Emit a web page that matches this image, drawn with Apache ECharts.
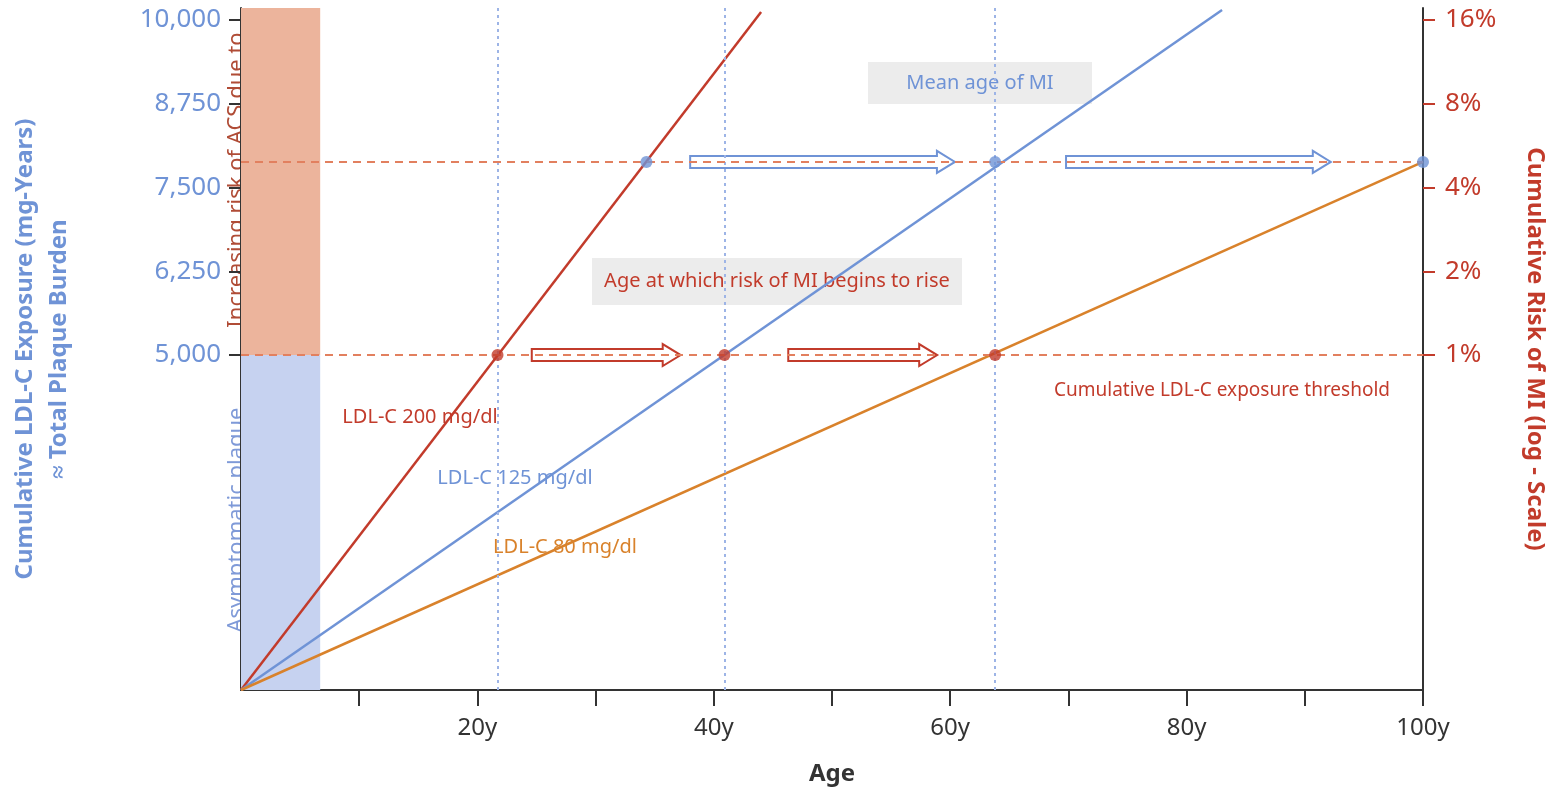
<!DOCTYPE html>
<html>
<head>
<meta charset="utf-8">
<script src="https://cdn.jsdelivr.net/npm/echarts@6/dist/echarts.min.js"></script>
<style>html,body{margin:0;background:#fff}#chart{width:1557px;height:800px}</style>
</head>
<body>
<div id="chart"></div>
<script>
// values
const xTicks = [10, 20, 30, 40, 50, 60, 70, 80, 90, 100];
const xLabels = [20, 40, 60, 80, 100];
const yTicks = [5000, 6250, 7500, 8750, 10000];
const riskLabels = ['1%', '2%', '4%', '8%', '16%'];
const ldl200 = [[0, 0], [44, 10120]];
const ldl125 = [[0, 0], [83, 10150]];
const ldl80 = [[0, 0], [100, 7883]];
const thresholdLow = 5000;
const thresholdHigh = 7883;
const riseAges = [21.7, 40.9, 63.8];
const miAges = [34.3, 63.8, 100];
const redArrows = [[24.6, 37.2, 5000], [46.3, 58.9, 5000]];
const blueArrows = [[38, 60.4, 7883], [69.8, 92.2, 7883]];
const bandEnd = 6.7;

const RED = '#c23b2b', BLUE = '#6f93d6', ORANGE = '#d9822b', DASH = '#e2805f';
const FONT = 'Noto Sans';
const myChart = echarts.init(document.getElementById('chart'));

function arrowItem(color) {
    return function (params, api) {
        const a = api.coord([api.value(0), api.value(2)]);
        const b = api.coord([api.value(1), api.value(2)]);
        const y = a[1], s = 6, h = 11, hl = 18;
        return {
            type: 'polygon',
            shape: {points: [[a[0], y - s], [b[0] - hl, y - s], [b[0] - hl, y - h], [b[0], y],
                [b[0] - hl, y + h], [b[0] - hl, y + s], [a[0], y + s]]},
            style: {fill: '#fff', stroke: color, lineWidth: 2}
        };
    };
}

const option = {
    animation: false,
    textStyle: {fontFamily: FONT},
    grid: {left: 212, right: 134, top: 8, bottom: 110},
    xAxis: {
        type: 'value', min: 0, max: 100,
        name: 'Age', nameLocation: 'middle', nameGap: 72,
        nameTextStyle: {fontSize: 24, color: '#333', fontWeight: 'bold'},
        axisLine: {lineStyle: {color: '#333', width: 2}},
        axisTick: {customValues: xTicks, length: 16, lineStyle: {color: '#333', width: 2}},
        axisLabel: {customValues: xLabels, formatter: v => v + 'y', fontSize: 24, color: '#333', margin: 26},
        splitLine: {show: false}
    },
    yAxis: [{
        type: 'value', min: 0, max: 10180,
        name: 'Cumulative LDL-C Exposure (mg-Years)\n≈ Total Plaque Burden',
        nameLocation: 'middle', nameGap: 165, nameRotate: 90,
        nameTextStyle: {fontSize: 24, color: BLUE, fontWeight: 'bold', lineHeight: 34},
        axisLine: {show: true, lineStyle: {color: '#333', width: 2}},
        axisTick: {customValues: yTicks, length: 12, lineStyle: {color: '#333', width: 2}},
        axisLabel: {customValues: yTicks, formatter: v => v.toLocaleString('en-US'), fontSize: 26, color: BLUE, margin: 20},
        splitLine: {show: false}
    }, {
        type: 'value', min: 0, max: 10180, position: 'right',
        name: 'Cumulative Risk of MI (log - Scale)',
        nameLocation: 'middle', nameGap: 100, nameRotate: -90,
        nameTextStyle: {fontSize: 24, color: RED, fontWeight: 'bold'},
        axisLine: {show: true, lineStyle: {color: '#333', width: 2}},
        axisTick: {customValues: yTicks, length: 12, lineStyle: {color: RED, width: 2}},
        axisLabel: {customValues: yTicks, formatter: v => riskLabels[yTicks.indexOf(v)], fontSize: 26, color: RED, margin: 22},
        splitLine: {show: false}
    }],
    series: [
        {
            type: 'line', data: [], silent: true,
            markArea: {silent: true, data: [
                [{xAxis: 0, yAxis: 0, itemStyle: {color: '#c6d2f0'}}, {xAxis: bandEnd, yAxis: thresholdLow}],
                [{xAxis: 0, yAxis: thresholdLow, itemStyle: {color: '#ecb49c'}}, {xAxis: bandEnd, yAxis: 10180}]
            ]},
            markLine: {silent: true, symbol: 'none', label: {show: false},
                lineStyle: {color: '#9db4e6', type: [3, 4], width: 2},
                data: riseAges.map(a => ({xAxis: a}))}
        },
        {
            type: 'line', data: [], silent: true,
            markLine: {silent: true, symbol: 'none', label: {show: false},
                lineStyle: {color: DASH, type: [8, 6], width: 2},
                data: [{yAxis: thresholdLow}, {yAxis: thresholdHigh}]}
        },
        {type: 'line', data: ldl200, symbol: 'none', lineStyle: {color: RED, width: 2.5}},
        {type: 'line', data: ldl125, symbol: 'none', lineStyle: {color: BLUE, width: 2.5}},
        {type: 'line', data: ldl80, symbol: 'none', lineStyle: {color: ORANGE, width: 2.5}},
        {type: 'scatter', data: riseAges.map(a => [a, thresholdLow]), symbolSize: 12, itemStyle: {color: RED}, z: 5},
        {type: 'scatter', data: miAges.map(a => [a, thresholdHigh]), symbolSize: 12, itemStyle: {color: BLUE}, z: 5},
        {type: 'custom', data: redArrows, renderItem: arrowItem(RED), z: 4},
        {type: 'custom', data: blueArrows, renderItem: arrowItem(BLUE), z: 4}
    ],
    graphic: [
        {type: 'text', x: 252, y: 520, rotation: Math.PI / 2, style: {text: 'Asymptomatic plaque\nprogression',
            fill: '#7f9ad8', font: '22px "Noto Sans"', align: 'center', verticalAlign: 'middle', lineHeight: 30}},
        {type: 'text', x: 252, y: 180, rotation: Math.PI / 2, style: {text: 'Increasing risk of ACS due to\naccumulated plaque burden',
            fill: '#b04c36', font: '22px "Noto Sans"', align: 'center', verticalAlign: 'middle', lineHeight: 30}},
        {type: 'text', x: 420, y: 417, style: {text: 'LDL-C 200 mg/dl', fill: RED, font: '20px "Noto Sans"', align: 'center', verticalAlign: 'middle'}},
        {type: 'text', x: 515, y: 478, style: {text: 'LDL-C 125 mg/dl', fill: BLUE, font: '20px "Noto Sans"', align: 'center', verticalAlign: 'middle'}},
        {type: 'text', x: 565, y: 547, style: {text: 'LDL-C 80 mg/dl', fill: ORANGE, font: '20px "Noto Sans"', align: 'center', verticalAlign: 'middle'}},
        {type: 'rect', shape: {x: 868, y: 62, width: 224, height: 42}, style: {fill: '#ececec'}},
        {type: 'text', x: 980, y: 83, style: {text: 'Mean age of MI', fill: BLUE, font: '20px "Noto Sans"', align: 'center', verticalAlign: 'middle'}},
        {type: 'rect', shape: {x: 592, y: 258, width: 370, height: 47}, style: {fill: '#ececec'}},
        {type: 'text', x: 777, y: 281, style: {text: 'Age at which risk of MI begins to rise', fill: RED, font: '20px "Noto Sans"', align: 'center', verticalAlign: 'middle'}},
        {type: 'text', x: 1222, y: 391, style: {text: 'Cumulative LDL-C exposure threshold', fill: RED, font: '19px "Noto Sans"', align: 'center', verticalAlign: 'middle'}}
    ]
};

myChart.setOption(option);
window.addEventListener('resize', () => myChart.resize());
</script>
</body>
</html>
